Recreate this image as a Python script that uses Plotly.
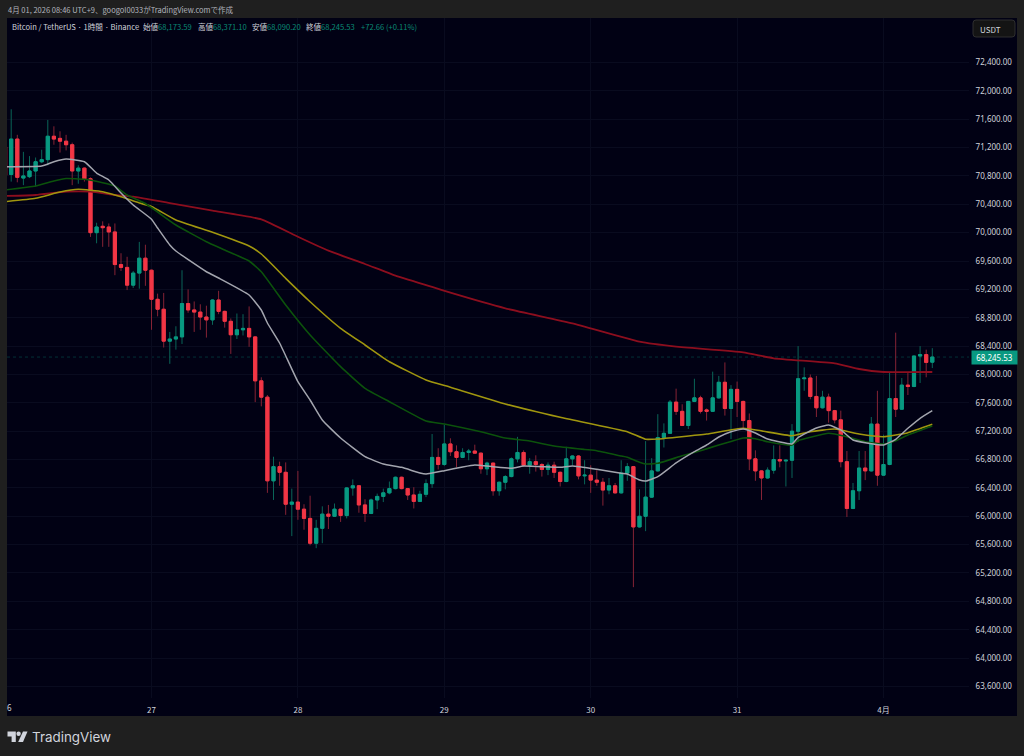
import plotly.graph_objects as go

opens = [71210,70820,71320,70770,70790,70870,71000,71030,71360,71330,
 71290,71240,70870,70910,70760,70000,70090,70080,70010,69550,
 69510,69260,69430,69640,69470,69060,68920,68470,68500,68530,
 69000,68910,68880,68810,68770,69050,68890,68750,68560,68630,
 68650,68530,67910,67680,66500,66700,66620,66170,66200,66100,
 65970,65620,65830,66030,66000,66100,66010,66400,66430,66160,
 66040,66230,66280,66330,66390,66550,66390,66300,66210,66310,
 66460,66830,66730,67020,66910,66830,66900,66920,66890,66670,
 66750,66360,66480,66560,66810,66900,66720,66770,66730,66660,
 66720,66620,66490,66810,66850,66570,66580,66510,66480,66370,
 66430,66330,66610,66700,65850,66000,66270,66640,67110,67170,
 67610,67480,67280,67620,67670,67500,67480,67670,67890,67520,
 67790,67620,67350,66810,66640,66540,66650,66800,66780,66790,
 67200,67940,67950,67690,67530,67680,67490,67360,66770,66110,
 66360,66680,66640,67300,66580,66730,67660,67510,67850,67830,
 68260,68280,68173.59]
highs = [71230,71740,71380,71140,71080,71060,71170,71590,71500,71430,
 71380,71270,70950,70920,70780,70140,70160,70130,70130,69710,
 69660,69460,69870,69830,69480,69140,69150,68600,68680,69470,
 69200,69030,68990,68970,69060,69180,68900,68790,68860,68850,
 68960,68540,67960,67710,66840,66770,66760,66390,66640,66170,
 66290,65950,66140,66160,66180,66110,66410,66520,66440,66240,
 66250,66320,66390,66490,66560,66560,66400,66410,66360,66520,
 67160,66960,67290,67100,67000,66960,66950,67010,66900,66770,
 66750,66490,66580,66830,67120,66930,66820,66860,66750,66760,
 66770,66630,66980,66860,66860,66790,66720,66650,66540,66540,
 66470,66790,66750,66710,66380,67060,66820,67440,67310,67640,
 67800,67580,67620,67940,67700,67520,68040,67980,68170,67850,
 67900,67630,67450,66930,66650,66690,67000,67000,66800,67300,
 68400,68100,68000,67980,67770,67730,67500,67490,66920,66470,
 66920,66920,67400,67770,67150,68030,68590,67950,68020,68260,
 68400,68350,68371.10]
lows = [70780,70720,70710,70670,70770,70650,70980,70950,71240,71130,
 71160,70670,70690,70720,69940,69850,69800,69800,69400,69460,
 69190,69220,69210,69250,68630,68820,68380,68150,68350,68430,
 68870,68600,68630,68520,68700,68850,68660,68290,68500,68550,
 68390,67610,67550,66330,66230,66430,66020,65720,65950,65810,
 65590,65550,65620,65820,65990,65920,65970,66290,66050,65920,
 66030,66100,66200,66310,66380,66380,66230,66110,66200,66270,
 66400,66660,66710,66850,66690,66820,66790,66890,66600,66580,
 66290,66290,66380,66550,66760,66700,66600,66630,66560,66580,
 66540,66420,66480,66720,66520,66450,66330,66430,66150,66310,
 66320,66320,66500,65000,65840,65790,66260,66630,66970,67160,
 67430,67280,67230,67610,67450,67350,67470,67660,67420,67090,
 67400,67220,66650,66500,66230,66530,66600,66690,66420,66540,
 67050,67770,67650,67400,67520,67320,67310,66690,65990,66100,
 66230,66510,66630,66430,66570,66720,67400,67500,67710,67820,
 67880,67960,68090.20]
closes = [70810,71320,70780,70800,70870,71000,71030,71360,71320,71290,
 71240,70870,70910,70760,70000,70080,70070,70010,69550,69510,
 69260,69430,69640,69470,69060,68920,68470,68500,68530,69000,
 68910,68880,68810,68770,69050,68890,68750,68560,68630,68650,
 68530,67910,67680,66500,66700,66620,66170,66200,66100,65970,
 65620,65830,66030,66000,66100,66010,66400,66430,66160,66040,
 66230,66280,66330,66390,66550,66390,66300,66210,66310,66460,
 66830,66730,67020,66910,66830,66900,66920,66890,66670,66750,
 66360,66480,66560,66810,66900,66720,66770,66730,66660,66720,
 66620,66490,66810,66850,66570,66580,66510,66480,66370,66430,
 66330,66610,66700,65850,66000,66270,66640,67110,67170,67610,
 67480,67280,67620,67670,67480,67480,67670,67890,67520,67790,
 67620,67350,66810,66640,66540,66650,66800,66780,66790,67200,
 67940,67950,67690,67530,67680,67490,67360,66770,66110,66360,
 66680,66640,67300,66580,66730,67660,67510,67850,67830,68260,
 68280,68170,68245.53]
assert len(opens) == len(highs) == len(lows) == len(closes) == 153, (len(opens), len(highs), len(lows), len(closes))
hours = list(range(153))

white_x = [0,6,8,10,13,15,17,19,21,24,25,27,28,33,35,40,42,43,45,48,50,52,55,59,62,65,68,69,72,75,77,80,83,85,91,93,97,101,102,104,105,107,110,113,115,117,119,121,123,125,129,130,133,135,137,139,141,144,146,148,150,152]
white_y = [70930,70940,71001,71039,71000,70841,70743,70559,70390,70190,70066,69826,69741,69449,69361,69121,68909,68726,68444,67898,67640,67358,67104,66840,66737,66690,66610,66596,66643,66695,66723,66699,66677,66709,66691,66709,66662,66606,66596,66511,66497,66558,66752,66911,67005,67118,67193,67231,67174,67090,67020,67111,67245,67287,67217,67076,67038,67005,67086,67241,67382,67489]
green_x = [0,5,8,10,13,16,18,20,23,28,33,36,40,42,46,50,55,59,63,69,72,78,82,86,90,95,97,101,102,104,105,107,111,114,117,119,121,123,125,129,130,132,135,138,141,144,146,148,152]
green_y = [70602,70658,70729,70764,70753,70705,70658,70531,70411,70108,69873,69756,69600,69449,68980,68557,68110,67805,67616,67344,67301,67193,67104,67061,66991,66942,66925,66850,66832,66761,66737,66747,66854,66925,67005,67054,67104,67094,67052,67005,67066,67114,67170,67122,67052,67020,67066,67146,67273]
yellow_x = [0,5,9,12,16,19,22,24,28,34,40,42,46,50,55,59,63,69,73,82,91,102,105,107,115,121,129,132,136,140,144,148,152]
yellow_y = [70437,70485,70573,70612,70578,70507,70418,70369,70179,70005,69812,69699,69356,69026,68651,68416,68180,67922,67819,67584,67396,67193,67086,67090,67160,67241,67136,67193,67231,67160,67122,67179,67297]
red_x = [0,5,10,14,18,21,27,34,42,48,53,59,64,70,73,82,93,104,110,121,126,136,140,144,152]
red_y = [70517,70531,70578,70578,70531,70507,70418,70310,70188,69943,69746,69558,69393,69234,69153,68933,68722,68462,68392,68313,68228,68157,68077,68035,68035]

day_ticks = [24,48,72,96,120,144]
day_labels = ["27","28","29","30","31","4月"]
price_ticks = list(range(63600, 72401, 400))

PAGE = "#1f1f1f"
PANEL = "#010114"
GRID = "#090b1f"
UP = "#089981"
DOWN = "#f23645"
UP_WICK = "#0a6558"
DOWN_WICK = "#862335"
TEXT = "#d1d4dc"

L, R, T, B = 7, 969, 18, 698
def px(x): return (x - L) / (R - L)
def py(y): return (B - y) / (B - T)
def rect(x0, y0, x1, y1, fill, line="rgba(0,0,0,0)", layer="below"):
    return dict(type="rect", xref="paper", yref="paper", x0=px(x0), x1=px(x1), y0=py(y0), y1=py(y1),
                fillcolor=fill, line=dict(color=line, width=1), layer=layer)
def poly(points, fill):
    d = "M " + " L ".join(f"{px(a):.5f},{py(b):.5f}" for a, b in points) + " Z"
    return dict(type="path", xref="paper", yref="paper", path=d, fillcolor=fill, line=dict(width=0), layer="above")

CJK = "Noto Sans CJK JP"
def label(x, y, text, color=TEXT, size=7.6, family=CJK, **kw):
    return dict(xref="paper", yref="paper", x=px(x), y=py(y), text=text, showarrow=False,
                xanchor=kw.pop("xanchor", "left"), yanchor="middle",
                font=dict(color=color, size=size, family=family), **kw)

fig = go.Figure()
fig.add_trace(go.Candlestick(x=hours, open=opens, high=highs, low=lows, close=closes, whiskerwidth=0,
    increasing=dict(line=dict(color=UP_WICK, width=1), fillcolor=UP_WICK),
    decreasing=dict(line=dict(color=DOWN_WICK, width=1), fillcolor=DOWN_WICK), hoverinfo="skip"))
fig.add_trace(go.Candlestick(x=hours, open=opens, close=closes, whiskerwidth=0,
    high=[max(a, b) for a, b in zip(opens, closes)], low=[min(a, b) for a, b in zip(opens, closes)],
    increasing=dict(line=dict(color=UP, width=1), fillcolor=UP),
    decreasing=dict(line=dict(color=DOWN, width=1), fillcolor=DOWN), hoverinfo="skip"))
for xs, ys, col, w in [(red_x, red_y, "#8c0e1e", 1.8), (yellow_x, yellow_y, "#a0960f", 1.6),
                       (green_x, green_y, "#0c520c", 1.6), (white_x, white_y, "#a3a5ae", 1.5)]:
    fig.add_trace(go.Scatter(x=xs, y=ys, mode="lines", line=dict(color=col, width=w, shape="spline", smoothing=0.4), hoverinfo="skip"))

shapes = [
    rect(R - 1, 18, 1017, 716, PANEL),
    rect(7, B - 1, 1017, 716, PANEL),
    dict(type="line", xref="paper", yref="y", x0=0, x1=1, y0=closes[-1], y1=closes[-1],
         line=dict(color="rgba(8,153,129,0.32)", width=1, dash="dot"), layer="below"),
    dict(type="path", xref="paper", yref="paper",
         path="M {},{} L {},{} Q {},{} {},{} L {},{} Q {},{} {},{} L {},{} Q {},{} {},{} L {},{} Q {},{} {},{} Z".format(
             px(976), py(20), px(1012), py(20), px(1015), py(20), px(1015), py(23), px(1015), py(34),
             px(1015), py(37), px(1012), py(37), px(976), py(37), px(973), py(37), px(973), py(34),
             px(973), py(23), px(973), py(20), px(976), py(20)),
         fillcolor="#141414", line=dict(color="#2e2e2e", width=1), layer="above"),
    poly([(7.5,731.5),(15.8,731.5),(15.8,742),(11.6,742),(11.6,736.5),(7.5,736.5)], "#d1d4dc"),
    poly([(23,731.5),(27.5,731.5),(23,742),(18.2,742)], "#d1d4dc"),
    dict(type="circle", xref="paper", yref="paper", x0=px(16.4), x1=px(20.8), y0=py(736), y1=py(731.6),
         fillcolor="#d1d4dc", line=dict(width=0), layer="above"),
]

g = "#0a8a75"
ann = [
    label(6, 9, "4月 01, 2026 08:46 UTC+9、googol0033がTradingView.comで作成", color="#b2b5be", size=7.5),
    label(10, 27, "Bitcoin / TetherUS · 1時間 · Binance", size=7.6),
    label(141, 27, "始値"), label(156, 27, "68,173.59", color=g),
    label(196, 27, "高値"), label(211, 27, "68,371.10", color=g),
    label(250, 27, "安値"), label(265, 27, "68,090.20", color=g),
    label(304, 27, "終値"), label(319, 27, "68,245.53", color=g),
    label(359, 27, "+72.66 (+0.11%)", color=g),
    label(977.5, 29, "USDT", size=8),
    label(4.5, 707, "6", size=8, family="Noto Sans"),
    label(971.5, 357.3, f"{closes[-1]:,.2f}", color="#ffffff", size=8, family="Noto Sans",
          bgcolor=UP, width=43, height=11, align="center"),
    label(30, 737, "TradingView", color="#d1d4dc", size=13.4, family="Inter"),
]

fig.update_layout(
    width=1024, height=756, autosize=False, showlegend=False,
    paper_bgcolor=PAGE, plot_bgcolor=PANEL, boxgap=0.26,
    margin=dict(l=L, r=1024 - R, t=T, b=756 - B, pad=0),
    shapes=shapes, annotations=ann,
    xaxis=dict(range=[(L - 5.1) / 6.1, (R - 5.1) / 6.1], tickmode="array", tickvals=day_ticks, ticktext=day_labels,
               showgrid=True, gridcolor=GRID, gridwidth=1, zeroline=False, showline=False,
               ticks="outside", ticklen=4, tickcolor="rgba(0,0,0,0)",
               tickfont=dict(color=TEXT, size=8, family=CJK), rangeslider=dict(visible=False), fixedrange=True),
    yaxis=dict(side="right", range=[63436.9, 73027.6], tickmode="array", tickvals=price_ticks, tickformat=",.2f",
               showgrid=True, gridcolor=GRID, gridwidth=1, zeroline=False, showline=False,
               ticks="outside", ticklen=4, tickcolor="rgba(0,0,0,0)",
               tickfont=dict(color=TEXT, size=8, family="Noto Sans"), fixedrange=True),
)
fig.write_html("out.html", config=dict(displayModeBar=False, responsive=False),
               post_script="document.body.style.margin='0';document.body.style.background='#1f1f1f';document.body.style.overflow='hidden';")
